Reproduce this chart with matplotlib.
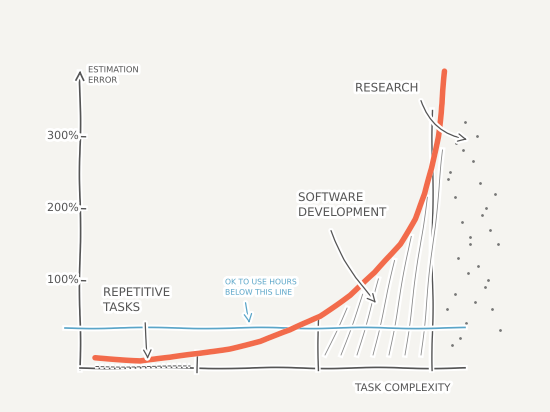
import matplotlib
matplotlib.use("Agg")
import matplotlib.pyplot as plt
import numpy as np

# data (complexity in pixel-like units, error in %)
curve_x = [95, 120, 140, 170, 200, 230, 260, 290, 320, 350, 375, 400, 415, 425, 432, 438, 442, 445]
curve_y = [-8, -10, -12, -8, -2, 5, 15, 30, 50, 79, 110, 150, 185, 220, 255, 300, 345, 390]
yticks = [100, 200, 300]
ytick_labels = ["100%", "200%", "300%"]
threshold = 33
dots_x = [448, 455, 462, 470, 478, 485, 492, 500, 452, 466, 475, 488, 458, 470, 482, 495, 450, 463, 477, 490, 455, 468, 486, 460, 473, 498, 447, 480, 465, 456]
dots_y = [240, 215, 180, 150, 120, 90, 60, 30, 10, 40, 70, 100, 130, 160, 190, 220, 250, 280, 300, 170, 80, 110, 200, 20, 265, 150, 60, 235, 320, 290]

def py(p):  # pixel y to %
    return (352 - p) / 0.72

plt.xkcd(scale=0.6, length=120, randomness=2)
plt.rcParams['font.family'] = ['DejaVu Sans']
fig = plt.figure(figsize=(5.5, 4.12), dpi=100)
fig.patch.set_facecolor('#f5f4f0')
ax = fig.add_axes([0, 0, 1, 1])
ax.set_facecolor('#f5f4f0')
ax.set_xlim(0, 550)
ax.set_ylim(py(412), py(0))
ax.axis('off')

ink = '#555555'
# axes
ax.plot([80, 80], [py(370), py(72)], color=ink, lw=1.2)
ax.plot([76, 80, 84], [py(80), py(72), py(80)], color=ink, lw=1.2)
ax.plot([80, 465], [py(368), py(368)], color=ink, lw=1.2)
for t, l in zip(yticks, ytick_labels):
    ax.plot([75, 85], [t, t], color=ink, lw=1)
    ax.text(47, t, l, fontsize=8, color=ink, va='center')
# verticals
ax.plot([318, 318], [py(318), py(370)], color=ink, lw=1)
ax.plot([432, 432], [py(110), py(370)], color=ink, lw=1)
ax.plot([197, 197], [py(352), py(372)], color=ink, lw=1)
# hatch
cx = np.array(curve_x); cy = np.array(curve_y)
for x0 in range(325, 425, 16):
    ytop = np.interp(x0 + 22, cx, cy)
    ax.plot([x0, x0 + 22], [py(355), min(ytop - 15, py(150))], color='#888888', lw=0.6)
# dashed under repetitive
ax.plot([95, 190], [py(366), py(366)], color=ink, lw=0.7, ls='--')
# threshold
ax.plot([65, 465], [threshold, threshold], color='#5aa5c8', lw=1.2)
# curve
ax.plot(curve_x, curve_y, color='#f26b4b', lw=4, solid_capstyle='round')
# dots
ax.scatter(dots_x, dots_y, s=1, color='#777777')
# texts
ax.text(88, py(75), "ESTIMATION\nERROR", fontsize=6, color=ink, va='center')
ax.text(355, py(388), "TASK COMPLEXITY", fontsize=7.5, color=ink, va='center')
ax.text(355, py(88), "RESEARCH", fontsize=8.5, color=ink, va='center')
ax.text(298, py(205), "SOFTWARE\nDEVELOPMENT", fontsize=8.5, color=ink, va='center')
ax.text(103, py(300), "REPETITIVE\nTASKS", fontsize=8.5, color=ink, va='center')
ax.text(225, py(287), "OK TO USE HOURS\nBELOW THIS LINE", fontsize=5.5, color='#5aa5c8', va='center')
arrow = dict(arrowstyle='->', color=ink, lw=0.9)
ax.annotate('', xy=(470, py(140)), xytext=(420, py(98)), arrowprops=dict(arrow, connectionstyle='arc3,rad=0.3'))
ax.annotate('', xy=(378, py(305)), xytext=(330, py(228)), arrowprops=dict(arrow, connectionstyle='arc3,rad=0.1'))
ax.annotate('', xy=(148, py(362)), xytext=(145, py(320)), arrowprops=arrow)
ax.annotate('', xy=(250, py(326)), xytext=(245, py(300)), arrowprops=dict(arrow, color='#5aa5c8'))
fig.savefig('out.png', dpi=100, facecolor=fig.get_facecolor())
